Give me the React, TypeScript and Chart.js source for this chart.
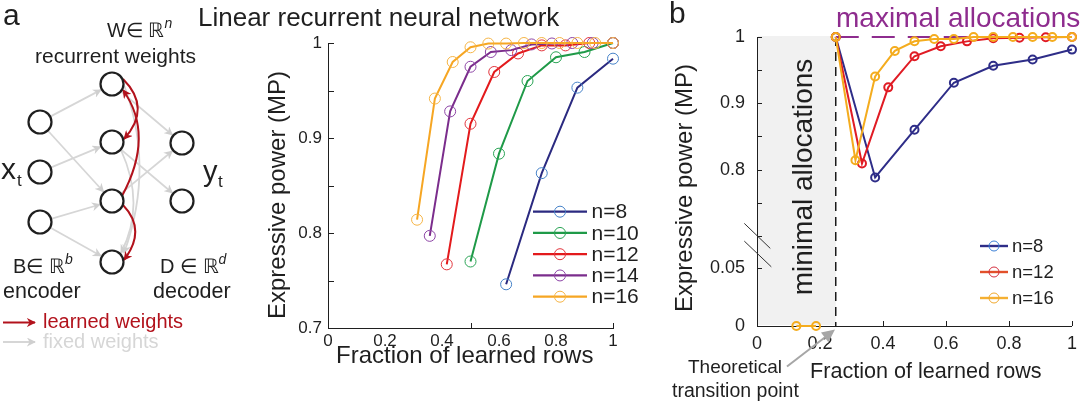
import React, { useEffect, useRef } from 'react';
import { Chart, registerables } from 'chart.js';

Chart.register(...registerables);

const FONT = '"Liberation Sans", Arial, Helvetica, sans-serif';
const INK = '#1f1f1f';

// ---------- Linear recurrent neural network (middle chart) ----------
const LIN_LABELS = ['n=8', 'n=10', 'n=12', 'n=14', 'n=16'];
const LIN_X_N8 = [0.625, 0.75, 0.875, 1];
const LIN_Y_N8 = [0.746, 0.863, 0.953, 0.9835];
const LIN_X_N10 = [0.5, 0.6, 0.7, 0.8, 0.9, 1];
const LIN_Y_N10 = [0.77, 0.8835, 0.96, 0.985, 0.9905, 1.0];
const LIN_X_N12 = [0.4167, 0.5, 0.5833, 0.6667, 0.75, 0.8333, 0.9167, 1];
const LIN_Y_N12 = [0.767, 0.915, 0.9695, 0.989, 0.9975, 0.9975, 1.0, 1.0];
const LIN_X_N14 = [0.3571, 0.4286, 0.5, 0.5714, 0.6429, 0.7143, 0.7857, 0.8571, 0.9286, 1];
const LIN_Y_N14 = [0.797, 0.928, 0.975, 0.9905, 0.9925, 0.9985, 0.9995, 1.0, 1.0, 1.0];
const LIN_X_N16 = [0.3125, 0.375, 0.4375, 0.5, 0.5625, 0.625, 0.6875, 0.75, 0.8125, 0.875, 0.9375, 1];
const LIN_Y_N16 = [0.814, 0.9415, 0.98, 0.9955, 0.9994, 0.9994, 1.0, 1.0, 1.0, 1.0, 1.0, 1.0];
const LIN_X = [LIN_X_N8, LIN_X_N10, LIN_X_N12, LIN_X_N14, LIN_X_N16];
const LIN_Y = [LIN_Y_N8, LIN_Y_N10, LIN_Y_N12, LIN_Y_N14, LIN_Y_N16];
const LIN_LINE_COLORS = ['#2b2a80', '#1f9a48', '#e31a1c', '#7b2d8c', '#f6a623'];
const LIN_MARKER_COLORS = ['#4682c8', '#2aa455', '#e2343c', '#8d45a6', '#f5b445'];
const LIN_X_TICKS = [0, 0.2, 0.4, 0.6, 0.8, 1];
const LIN_Y_TICKS = [0.7, 0.8, 0.9, 1];
const LIN_X_MARKS = [0.5, 1];
const LIN_Y_MARKS = [0.75, 0.8, 0.85, 0.9, 0.95, 1];

// ---------- Panel b ----------
const B_LABELS = ['n=8', 'n=12', 'n=16'];
const B_X_N8 = [0.25, 0.375, 0.5, 0.625, 0.75, 0.875, 1];
const B_Y_N8 = [1.0, 0.788, 0.86, 0.931, 0.9565, 0.966, 0.981];
const B_X_N12 = [0.25, 0.3333, 0.4167, 0.5, 0.5833, 0.6667, 0.75, 0.8333, 0.9167, 1];
const B_Y_N12 = [1.0, 0.809, 0.924, 0.971, 0.986, 0.9934, 0.998, 0.999, 0.9995, 1.0];
const B_X_N16 = [0.25, 0.3125, 0.375, 0.4375, 0.5, 0.5625, 0.625, 0.6875, 0.75, 0.8125, 0.875, 0.9375, 1];
const B_Y_N16 = [1.0, 0.814, 0.9405, 0.979, 0.9935, 0.997, 0.997, 1.0, 1.0, 1.0, 1.0, 1.0, 1.0];
const B_X_N16_ZERO = [0.125, 0.1875];
const B_Y_N16_ZERO = [0, 0];
const B_X = [B_X_N8, B_X_N12, B_X_N16];
const B_Y = [B_Y_N8, B_Y_N12, B_Y_N16];
const B_COLORS = ['#2e2d88', '#e01b24', '#f4ac1e'];
const B_LEGEND_LINES = ['#2e2d88', '#e2502a', '#f5b032'];
const B_LEGEND_MARKERS = ['#3a7fd5', '#d42f3f', '#f0a82c'];
const MAX_ALLOC_X = [0.25, 1];
const MAX_ALLOC_Y = [1, 1];
const MIN_REGION = [0, 0.25]; // minimal allocations / theoretical transition point
const B_X_TICKS = [0, 0.2, 0.4, 0.6, 0.8, 1];
const B_X_MARKS = [0.4, 0.6, 0.8, 1];
const B_YHI_TICKS = [0.8, 0.9, 1];
const B_YHI_MARKS = [0.7, 0.75, 0.8, 0.85, 0.9, 0.95, 1];
const B_YLO_TICKS = [0, 0.05];
const B_YLO_MARKS = [0.05];

const fmt = (v: number) => String(Math.round(Number(v) * 1000) / 1000);
const setTicks = (values: number[]) => (scale: any) => {
  scale.ticks = values.map((v) => ({ value: v }));
};

function tickMarks(specs: { scale: string; values: number[]; len: number }[]) {
  return {
    id: 'tickMarks',
    afterDatasetsDraw(chart: any) {
      const ctx = chart.ctx;
      ctx.save();
      ctx.strokeStyle = INK;
      ctx.lineWidth = 1;
      for (const s of specs) {
        const sc = chart.scales[s.scale];
        for (const v of s.values) {
          const p = Math.round(sc.getPixelForValue(v)) + 0.5;
          ctx.beginPath();
          if (sc.isHorizontal()) {
            ctx.moveTo(p, sc.top);
            ctx.lineTo(p, sc.top - s.len);
          } else {
            ctx.moveTo(sc.right, p);
            ctx.lineTo(sc.right + s.len, p);
          }
          ctx.stroke();
        }
      }
      ctx.restore();
    },
  };
}

function lineLegend(c: {
  labels: string[]; lines: string[]; markers: string[]; x: number; y: number; row: number;
  len: number; r: number; lw: number; mw: number; textX: number; size: number;
}) {
  return {
    id: 'lineLegend',
    afterDraw(chart: any) {
      const ctx = chart.ctx;
      ctx.save();
      c.labels.forEach((label, i) => {
        const y = c.y + i * c.row;
        ctx.strokeStyle = c.lines[i];
        ctx.lineWidth = c.lw;
        ctx.beginPath();
        ctx.moveTo(c.x, y);
        ctx.lineTo(c.x + c.len, y);
        ctx.stroke();
        ctx.strokeStyle = c.markers[i];
        ctx.lineWidth = c.mw;
        ctx.beginPath();
        ctx.arc(c.x + c.len / 2, y, c.r, 0, Math.PI * 2);
        ctx.stroke();
        ctx.fillStyle = INK;
        ctx.font = `${c.size}px ${FONT}`;
        ctx.textBaseline = 'middle';
        ctx.textAlign = 'left';
        ctx.fillText(label, c.textX, y + 1);
      });
      ctx.restore();
    },
  };
}

function regionPlugin() {
  return {
    id: 'minRegion',
    beforeDatasetsDraw(chart: any) {
      const { ctx, chartArea, scales } = chart;
      const x0 = scales.x.getPixelForValue(MIN_REGION[0]);
      const x1 = scales.x.getPixelForValue(MIN_REGION[1]);
      ctx.save();
      ctx.fillStyle = '#f1f1f1';
      ctx.fillRect(x0 + 1, chartArea.top - 1, x1 - x0 - 1, chartArea.bottom - chartArea.top);
      ctx.strokeStyle = '#1a1a1a';
      ctx.lineWidth = 1.5;
      ctx.setLineDash([9, 6]);
      ctx.beginPath();
      ctx.moveTo(x1, chartArea.top);
      ctx.lineTo(x1, chartArea.bottom);
      ctx.stroke();
      ctx.restore();
    },
    afterDraw(chart: any) {
      const { ctx, scales } = chart;
      const ax = scales.yHi.right;
      const by = scales.yHi.bottom;
      ctx.save();
      ctx.strokeStyle = '#333';
      ctx.lineWidth = 1;
      ctx.beginPath();
      ctx.moveTo(ax - 12.7, by - 12.4);
      ctx.lineTo(ax + 13.3, by + 12.6);
      ctx.moveTo(ax - 12.7, by + 5.3);
      ctx.lineTo(ax + 14.3, by + 31);
      ctx.stroke();
      ctx.restore();
    },
  };
}

const axisCommon = (size: number, padding: number) => ({
  grid: { display: false, drawTicks: false },
  border: { display: true, color: INK, width: 1 },
  ticks: {
    autoSkip: false, maxRotation: 0, minRotation: 0, padding, color: INK,
    font: { family: FONT, size }, callback: (v: any) => fmt(v),
  },
});

type P = [number, number];
const IN_NODES: P[] = [[40, 122], [40, 172], [40, 222]];
const HID_NODES: P[] = [[112, 84], [112, 142], [112, 201], [112, 262]];
const OUT_NODES: P[] = [[182, 143], [182, 201]];
const NODE_R = 11.5;
const STRAIGHT: [P, P][] = [
  [IN_NODES[0], HID_NODES[0]], [IN_NODES[0], HID_NODES[2]], [IN_NODES[1], HID_NODES[1]],
  [IN_NODES[2], HID_NODES[2]], [IN_NODES[2], HID_NODES[3]],
  [HID_NODES[0], OUT_NODES[0]], [HID_NODES[1], OUT_NODES[1]], [HID_NODES[2], OUT_NODES[0]],
];
const GRAY_CURVES = ['M 122 80 Q 156 165 124 253', 'M 121 150 Q 146 205 121 253'];
const RED_CURVES = ['M 123 79 Q 152 108 124 139', 'M 122 196 Q 155 135 123 90', 'M 123 205 Q 147 230 124 260'];

function seg(a: P, b: P) {
  const dx = b[0] - a[0];
  const dy = b[1] - a[1];
  const L = Math.hypot(dx, dy);
  return { x1: a[0] + (dx / L) * NODE_R, y1: a[1] + (dy / L) * NODE_R, x2: b[0] - (dx / L) * (NODE_R + 1), y2: b[1] - (dy / L) * (NODE_R + 1) };
}

export default function App() {
  const c1 = useRef<HTMLCanvasElement>(null);
  const c2 = useRef<HTMLCanvasElement>(null);

  useEffect(() => {
    const linDatasets = LIN_LABELS.map((label, i) => ({
      label,
      data: LIN_X[i].map((x, j) => ({ x, y: LIN_Y[i][j] })),
      borderColor: LIN_LINE_COLORS[i],
      borderWidth: 2,
      pointRadius: 5.5,
      pointBorderWidth: 1,
      pointBorderColor: LIN_MARKER_COLORS[i],
      pointBackgroundColor: 'rgba(255,255,255,0)',
      tension: 0,
      clip: false as any,
      order: LIN_LABELS.length - i,
      xAxisID: 'x',
      yAxisID: 'y',
    }));

    const ch1 = new Chart(c1.current as HTMLCanvasElement, {
      type: 'line',
      data: { datasets: linDatasets as any },
      options: {
        responsive: false,
        animation: false,
        events: [],
        layout: { padding: { left: 0, right: 27, top: 43, bottom: 0 } },
        plugins: { legend: { display: false }, tooltip: { enabled: false }, title: { display: false } },
        scales: {
          x: {
            type: 'linear', min: 0, max: 1, ...axisCommon(17, 3),
            afterBuildTicks: setTicks(LIN_X_TICKS),
            afterFit: (s: any) => { s.height = 76; },
          } as any,
          y: {
            type: 'linear', min: 0.7, max: 1, ...axisCommon(17, 6),
            afterBuildTicks: setTicks(LIN_Y_TICKS),
            afterFit: (s: any) => { s.width = 88; },
          } as any,
        },
      },
      plugins: [
        tickMarks([{ scale: 'x', values: LIN_X_MARKS, len: 5 }, { scale: 'y', values: LIN_Y_MARKS, len: 6 }]),
        lineLegend({
          labels: LIN_LABELS, lines: LIN_LINE_COLORS, markers: LIN_MARKER_COLORS,
          x: 293, y: 211.7, row: 21.25, len: 54, r: 5.5, lw: 2.2, mw: 1, textX: 351.5, size: 21,
        }),
      ],
    });

    const bDatasets: any[] = [
      {
        label: 'n=16 (minimal)',
        data: B_X_N16_ZERO.map((x, j) => ({ x, y: B_Y_N16_ZERO[j] })),
        borderColor: B_COLORS[2], borderWidth: 2, pointRadius: 4, pointBorderWidth: 2,
        pointBorderColor: B_COLORS[2], pointBackgroundColor: 'rgba(255,255,255,0)',
        clip: false, order: 0, xAxisID: 'x', yAxisID: 'yLo',
      },
      ...B_LABELS.map((label, i) => ({
        label,
        data: B_X[i].map((x, j) => ({ x, y: B_Y[i][j] })),
        borderColor: B_COLORS[i], borderWidth: 2, pointRadius: 4, pointBorderWidth: 2,
        pointBorderColor: B_COLORS[i], pointBackgroundColor: 'rgba(255,255,255,0)',
        tension: 0, clip: false, order: B_LABELS.length - i, xAxisID: 'x', yAxisID: 'yHi',
      })),
      {
        label: 'maximal allocations',
        data: MAX_ALLOC_X.map((x, j) => ({ x, y: MAX_ALLOC_Y[j] })),
        borderColor: '#8e2c8e', borderWidth: 2, borderDash: [23, 13], pointRadius: 0,
        clip: false, order: 10, xAxisID: 'x', yAxisID: 'yHi',
      },
    ];

    const ch2 = new Chart(c2.current as HTMLCanvasElement, {
      type: 'line',
      data: { datasets: bDatasets },
      options: {
        responsive: false,
        animation: false,
        events: [],
        layout: { padding: { left: 0, right: 9, top: 37, bottom: 0 } },
        plugins: { legend: { display: false }, tooltip: { enabled: false }, title: { display: false } },
        scales: {
          x: {
            type: 'linear', min: 0, max: 1, ...axisCommon(18, 7),
            afterBuildTicks: setTicks(B_X_TICKS),
            afterFit: (s: any) => { s.height = 78; },
          } as any,
          yLo: {
            type: 'linear', position: 'left', stack: 'brk', stackWeight: 90, min: 0, max: 0.0784,
            ...axisCommon(18, 12),
            afterBuildTicks: setTicks(B_YLO_TICKS),
            afterFit: (s: any) => { s.width = 107; },
          } as any,
          yHi: {
            type: 'linear', position: 'left', stack: 'brk', stackWeight: 198.4, min: 0.7, max: 1,
            ...axisCommon(18, 12),
            afterBuildTicks: setTicks(B_YHI_TICKS),
            afterFit: (s: any) => { s.width = 107; },
          } as any,
        },
      },
      plugins: [
        regionPlugin(),
        tickMarks([
          { scale: 'x', values: B_X_MARKS, len: 5 },
          { scale: 'yHi', values: B_YHI_MARKS, len: 5 },
          { scale: 'yLo', values: B_YLO_MARKS, len: 5 },
        ]),
        lineLegend({
          labels: B_LABELS, lines: B_LEGEND_LINES, markers: B_LEGEND_MARKERS,
          x: 330, y: 246, row: 26, len: 28, r: 5, lw: 2.4, mw: 1, textX: 362, size: 18.5,
        }),
      ],
    });

    return () => {
      ch1.destroy();
      ch2.destroy();
    };
  }, []);

  return (
    <div style={{ position: 'absolute', left: 0, top: 0, width: 1084, height: 404, background: '#fff', overflow: 'hidden' }}>
      <canvas ref={c1} width={400} height={404} style={{ position: 'absolute', left: 240, top: 0, width: 400, height: 404 }} />
      <canvas ref={c2} width={434} height={404} style={{ position: 'absolute', left: 650, top: 0, width: 434, height: 404 }} />
      <svg width={1084} height={404} style={{ position: 'absolute', left: 0, top: 0, pointerEvents: 'none' }} fontFamily={FONT}>
        <defs>
          <marker id="ag" viewBox="0 0 10 10" refX="9" refY="5" markerWidth="9" markerHeight="9" markerUnits="userSpaceOnUse" orient="auto">
            <path d="M0,0 L10,5 L0,10 L3,5 z" fill="#cfcfcf" />
          </marker>
          <marker id="ar" viewBox="0 0 10 10" refX="9" refY="5" markerWidth="9" markerHeight="9" markerUnits="userSpaceOnUse" orient="auto">
            <path d="M0,0 L10,5 L0,10 L3,5 z" fill="#b2121c" />
          </marker>
        </defs>

        {/* panel a diagram */}
        <text x={3} y={25} fontSize={30} fill={INK}>a</text>
        <text x={107} y={37} fontSize={20} fill={INK}>
          W∈ ℝ<tspan fontStyle="italic" fontSize={14} dy={-9}>n</tspan>
        </text>
        <text x={115.5} y={63} fontSize={21} textAnchor="middle" fill={INK}>recurrent weights</text>
        {STRAIGHT.map(([a, b], i) => {
          const s = seg(a, b);
          return <line key={'s' + i} {...s} stroke="#d6d6d6" strokeWidth={1.8} markerEnd="url(#ag)" />;
        })}
        {GRAY_CURVES.map((d, i) => (
          <path key={'g' + i} d={d} fill="none" stroke="#d6d6d6" strokeWidth={1.8} markerEnd="url(#ag)" />
        ))}
        {RED_CURVES.map((d, i) => (
          <path key={'r' + i} d={d} fill="none" stroke="#b2121c" strokeWidth={2} markerEnd="url(#ar)" />
        ))}
        {[...IN_NODES, ...HID_NODES, ...OUT_NODES].map((p, i) => (
          <circle key={'n' + i} cx={p[0]} cy={p[1]} r={NODE_R} fill="none" stroke={INK} strokeWidth={2.2} />
        ))}
        <text x={1} y={179} fontSize={30} fill={INK}>x</text>
        <text x={17} y={186} fontSize={17} fill={INK}>t</text>
        <text x={203} y={181} fontSize={29} fill={INK}>y</text>
        <text x={218} y={187} fontSize={17} fill={INK}>t</text>
        <text x={13} y={273} fontSize={20} fill={INK}>
          B∈ ℝ<tspan fontStyle="italic" fontSize={14} dy={-9}>b</tspan>
        </text>
        <text x={3} y={297.5} fontSize={21.5} fill={INK}>encoder</text>
        <text x={160} y={273} fontSize={20} fill={INK}>
          D ∈ ℝ<tspan fontStyle="italic" fontSize={14} dy={-9}>d</tspan>
        </text>
        <text x={153} y={297.5} fontSize={21.5} fill={INK}>decoder</text>
        <line x1={3} y1={322.5} x2={35} y2={322.5} stroke="#b2121c" strokeWidth={2} markerEnd="url(#ar)" />
        <text x={43} y={327.5} fontSize={20} fill="#b2121c">learned weights</text>
        <line x1={3} y1={342} x2={35} y2={342} stroke="#d6d6d6" strokeWidth={2} markerEnd="url(#ag)" />
        <text x={43} y={348} fontSize={20} fill="#d6d6d6">fixed weights</text>

        {/* middle chart texts */}
        <text x={198} y={26} fontSize={26} fill={INK}>Linear recurrent neural network</text>
        <text transform="translate(285,195) rotate(-90)" textAnchor="middle" fontSize={24} fill={INK}>Expressive power (MP)</text>
        <text x={336} y={363} fontSize={24} fill={INK}>Fraction of learned rows</text>

        {/* panel b texts */}
        <text x={669} y={23} fontSize={30} fill={INK}>b</text>
        <text x={836} y={27} fontSize={28} fill="#8e2c8e">maximal allocations</text>
        <text transform="translate(811.5,177) rotate(-90)" textAnchor="middle" fontSize={28} fill={INK}>minimal allocations</text>
        <text transform="translate(691.5,188) rotate(-90)" textAnchor="middle" fontSize={24} fill={INK}>Expressive power (MP)</text>
        <text x={810} y={378} fontSize={21.6} fill={INK}>Fraction of learned rows</text>
        <text x={688} y={373} fontSize={19} fill={INK}>Theoretical</text>
        <text x={672} y={397} fontSize={19.5} fill={INK}>transition point</text>
        <line x1={787} y1={366.5} x2={826} y2={336.5} stroke="#a6a6a6" strokeWidth={2} />
        <polygon points="835,329.5 828.4,342.2 821,332.6" fill="#a6a6a6" />
      </svg>
    </div>
  );
}
